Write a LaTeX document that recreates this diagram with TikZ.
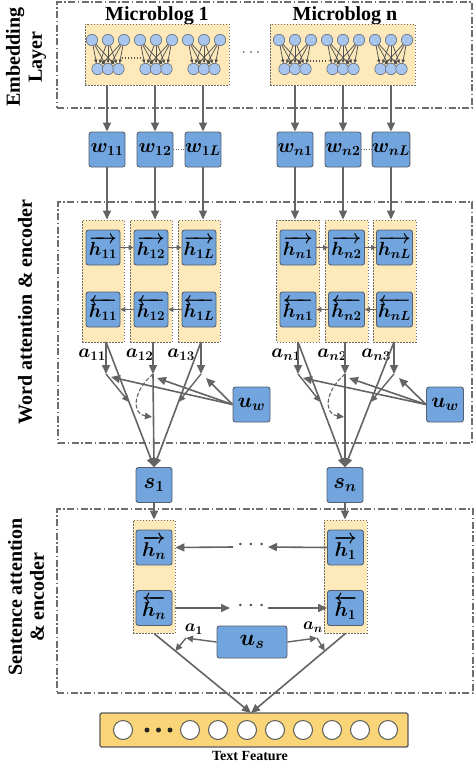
\RequirePackage{fix-cm}
\documentclass[tikz,border=0pt]{standalone}
\usepackage[no-math]{fontspec}
\setmainfont{Liberation Serif}
\usetikzlibrary{arrows.meta,calc}
\newcommand{\fsz}[1]{\fontsize{#1}{#1}\selectfont}
\newcommand{\bmth}[1]{{\boldmath$#1$}}
\definecolor{blueF}{RGB}{114,165,222}
\definecolor{boxB}{RGB}{85,95,110}
\definecolor{panelY}{RGB}{253,233,186}
\definecolor{dotG}{RGB}{110,110,110}
\definecolor{dashG}{RGB}{110,110,110}
\definecolor{circF}{RGB}{168,197,238}
\definecolor{circB}{RGB}{100,110,125}
\definecolor{arrD}{RGB}{80,80,80}
\definecolor{arrG}{RGB}{100,100,100}
\definecolor{tfY}{RGB}{249,213,120}
\definecolor{circB2}{RGB}{90,90,90}
\tikzset{
 outerbox/.style={draw=dashG, line width=1.3pt, dash pattern=on 7pt off 2.5pt on 1.5pt off 2.5pt, inner sep=0},
 panel/.style={draw=dotG, fill=panelY, line width=0.9pt, dash pattern=on 1.5pt off 1.5pt, inner sep=0},
 bluebox/.style={draw=boxB, fill=blueF, rounded corners=2.5pt, line width=0.9pt, inner sep=0, minimum width=36pt, minimum height=35pt, font=\fsz{20}},
 hbox/.style={bluebox, font=\fsz{19}},
 ec/.style={circle, draw=circB, fill=circF, line width=0.6pt, minimum size=11.4pt, inner sep=0},
 earr/.style={draw=arrD, line width=0.75pt, -{Triangle[length=3.5pt,width=3.4pt]}},
 conn/.style={draw=arrG, line width=1.6pt, -{Triangle[length=9pt,width=8pt]}},
 mconn/.style={draw=arrG, line width=1.4pt, -{Triangle[length=7pt,width=6.5pt]}},
 sconn/.style={draw=arrG, line width=1pt, -{Triangle[length=5pt,width=5pt]}},
 lab/.style={font=\fsz{19}, inner sep=0},
 side/.style={rotate=90, font=\fontsize{20}{22}\selectfont\bfseries, align=center, inner sep=0},
 tfc/.style={circle, draw=circB2, fill=white, line width=1pt, minimum size=19pt, inner sep=0},
}
\begin{document}
\begin{tikzpicture}[x=1pt,y=-1pt]
\useasboundingbox (0,0) rectangle (474,763);
\fill[white] (0,0) rectangle (474,763);
% outer boxes
\node[outerbox, minimum width=415pt, minimum height=106pt] (EmbBox) at (264.5,55) {};
\node[outerbox, minimum width=414pt, minimum height=241pt] (WordBox) at (265,322.5) {};
\node[outerbox, minimum width=416pt, minimum height=184pt] (SentBox) at (265,601) {};
% side labels
\node[side] (LabE) at (26,57) {Embedding\\Layer};
\node[side] (LabW) at (25,312) {Word attention \& encoder};
\node[side] (LabS) at (26,597) {Sentence attention\\\& encoder};
% titles
\node[font=\fsz{20}\bfseries, anchor=base, inner sep=0] (Tit1) at (157,20.5) {Microblog 1};
\node[font=\fsz{20}\bfseries, anchor=base, inner sep=0] (Titn) at (345,20.5) {Microblog n};
% embedding panels
\node[panel, minimum width=144pt, minimum height=61pt] (EPL) at (157,54.5) {};
\node[panel, minimum width=145pt, minimum height=61pt] (EPR) at (342.5,54.5) {};
\foreach \g/\cx in {L1/108,L2/156,L3/204,R1/295,R2/343,R3/391}{
  \foreach \i/\dx in {1/-16,2/0,3/16} \node[ec] (\g t\i) at (\cx+\dx,40) {};
  \foreach \i/\dx in {1/-10.5,2/0,3/10.5} \node[ec] (\g b\i) at (\cx+\dx,69) {};
  \foreach \i in {1,2,3}{\foreach \j in {1,2,3}{\draw[earr] (\g t\i) -- (\g b\j);}}
}
\coordinate (ED1a) at (122,58); \coordinate (ED1b) at (143,58);
\coordinate (ED2a) at (310,61); \coordinate (ED2b) at (328,61);
\draw[arrD, line width=1.1pt, dash pattern=on 1.2pt off 1.8pt] (ED1a) -- (ED1b);
\draw[arrD, line width=1.1pt, dash pattern=on 1.2pt off 1.8pt] (ED2a) -- (ED2b);
\node[font=\fsz{16}, text=arrD, inner sep=0] (EDots) at (251,53) {$\cdots$};
% word nodes
\node[bluebox] (WL1) at (107,149.5) {\bmth{w_{11}}};
\node[bluebox] (WL2) at (155,149.5) {\bmth{w_{12}}};
\node[bluebox] (WL3) at (203,149.5) {\bmth{w_{1L}}};
\node[bluebox] (WR1) at (295,149.5) {\bmth{w_{n1}}};
\node[bluebox] (WR2) at (343,149.5) {\bmth{w_{n2}}};
\node[bluebox] (WR3) at (391,149.5) {\bmth{w_{nL}}};
\draw[arrG, line width=1pt, dash pattern=on 1pt off 1.5pt] (WL2.east) -- (WL3.west);
\draw[arrG, line width=1pt, dash pattern=on 1pt off 1.5pt] (WR2.east) -- (WR3.west);
\foreach \w in {WL1,WL2,WL3}{\draw[conn] (EPL.south -| \w) -- (\w.north);}
\foreach \w in {WR1,WR2,WR3}{\draw[conn] (EPR.south -| \w) -- (\w.north);}
% word columns
\foreach \c/\cx/\cw in {CL1/103/42,CL2/151/42,CL3/199/42,CR1/298/43,CR2/346.5/43,CR3/394.5/43}{
  \node[panel, minimum width=\cw pt, minimum height=122pt] (\c) at (\cx,281) {};
}
\node[hbox, minimum width=34pt] (HFL1) at (103,247.5) {\bmth{\overrightarrow{h_{11}}}};
\node[hbox, minimum width=34pt] (HFL2) at (151,247.5) {\bmth{\overrightarrow{h_{12}}}};
\node[hbox, minimum width=34pt] (HFL3) at (199,247.5) {\bmth{\overrightarrow{h_{1L}}}};
\node[hbox, minimum width=34pt] (HBL1) at (103,309.5) {\bmth{\overleftarrow{h_{11}}}};
\node[hbox, minimum width=34pt] (HBL2) at (151,309.5) {\bmth{\overleftarrow{h_{12}}}};
\node[hbox, minimum width=34pt] (HBL3) at (199,309.5) {\bmth{\overleftarrow{h_{1L}}}};
\node[hbox] (HFR1) at (298,247.5) {\bmth{\overrightarrow{h_{n1}}}};
\node[hbox] (HFR2) at (346.5,247.5) {\bmth{\overrightarrow{h_{n2}}}};
\node[hbox] (HFR3) at (394.5,247.5) {\bmth{\overrightarrow{h_{nL}}}};
\node[hbox] (HBR1) at (298,309.5) {\bmth{\overleftarrow{h_{n1}}}};
\node[hbox] (HBR2) at (346.5,309.5) {\bmth{\overleftarrow{h_{n2}}}};
\node[hbox] (HBR3) at (394.5,309.5) {\bmth{\overleftarrow{h_{nL}}}};
\draw[conn] (WL1.south) -- (WL1.south |- CL1.north);
\draw[conn] (WL2.south) -- (WL2.south |- CL2.north);
\draw[conn] (WL3.south) -- (WL3.south |- CL3.north);
\draw[conn] (WR1.south) -- (WR1.south |- CR1.north);
\draw[conn] (WR2.south) -- (WR2.south |- CR2.north);
\draw[conn] (WR3.south) -- (WR3.south |- CR3.north);
\draw[sconn] (HFL1.east) -- (HFL2.west);
\draw[sconn] (HFL2.east) -- (HFL3.west);
\draw[sconn] (HBL2.west) -- (HBL1.east);
\draw[sconn] (HBL3.west) -- (HBL2.east);
\draw[sconn] (HFR1.east) -- (HFR2.west);
\draw[sconn] (HFR2.east) -- (HFR3.west);
\draw[sconn] (HBR2.west) -- (HBR1.east);
\draw[sconn] (HBR3.west) -- (HBR2.east);
% attention labels
\node[lab] (a11) at (92,355) {\bmth{a_{11}}};
\node[lab] (a12) at (139.5,355) {\bmth{a_{12}}};
\node[lab] (a13) at (181,355) {\bmth{a_{13}}};
\node[lab] (an1) at (286,355) {\bmth{a_{n1}}};
\node[lab] (an2) at (332,355) {\bmth{a_{n2}}};
\node[lab] (an3) at (376,355) {\bmth{a_{n3}}};
% sentence vectors and u_w
\node[bluebox, font=\fsz{22}] (S1) at (154,485) {\bmth{s_1}};
\node[bluebox, font=\fsz{22}] (Sn) at (345,485) {\bmth{s_n}};
\node[bluebox, minimum width=37pt, font=\fsz{21}] (UWL) at (251.5,404.5) {\bmth{u_w}};
\node[bluebox, minimum width=37pt, font=\fsz{21}] (UWR) at (445,404.5) {\bmth{u_w}};
% left attention
\coordinate (LB1) at (106,342); \coordinate (LB2) at (153,342); \coordinate (LB3) at (201,342);
\coordinate (LP1) at (106,374); \coordinate (LP2) at (153,374); \coordinate (LP3) at (201,374);
\coordinate (LA1) at (111,377); \coordinate (LA2) at (157,378); \coordinate (LA3) at (206,378);
\coordinate (LD1) at ($(LB1)!0.48!(S1.north)$);
\coordinate (LD2) at (152,417);
\coordinate (LD3) at ($(LB3)!0.48!(S1.north)$);
\draw[conn] (LB1) -- (S1.north);
\draw[conn] (LB3) -- (S1.north);
\draw[conn] (LP2) -- (S1.north);
\draw[conn] (LB1) -- (LP1);
\draw[conn] (LB2) -- (LP2);
\draw[conn] (LB3) -- (LP3);
\draw[conn] (UWL.west) -- (LA1);
\draw[conn] (UWL.west) -- (LA2);
\draw[conn] (UWL.west) -- (LA3);
\draw[mconn] (LP1) -- (LD1);
\draw[mconn] (LP3) -- (LD3);
\draw[mconn, line width=1.1pt, dash pattern=on 4pt off 2pt] (LP2) .. controls (132,392) and (132,414) .. (LD2);
% right attention
\coordinate (RB1) at (298,342); \coordinate (RB2) at (345,342); \coordinate (RB3) at (394,342);
\coordinate (RP1) at (298,374); \coordinate (RP2) at (345,374); \coordinate (RP3) at (394,374);
\coordinate (RA1) at (303,378); \coordinate (RA2) at (349,378); \coordinate (RA3) at (399,378);
\coordinate (RD1) at ($(RB1)!0.48!(Sn.north)$);
\coordinate (RD2) at (344,417);
\coordinate (RD3) at ($(RB3)!0.48!(Sn.north)$);
\draw[conn] (RB1) -- (Sn.north);
\draw[conn] (RB3) -- (Sn.north);
\draw[conn] (RP2) -- (Sn.north);
\draw[conn] (RB1) -- (RP1);
\draw[conn] (RB2) -- (RP2);
\draw[conn] (RB3) -- (RP3);
\draw[conn] (UWR.west) -- (RA1);
\draw[conn] (UWR.west) -- (RA2);
\draw[conn] (UWR.west) -- (RA3);
\draw[mconn] (RP1) -- (RD1);
\draw[mconn] (RP3) -- (RD3);
\draw[mconn, line width=1.1pt, dash pattern=on 4pt off 2pt] (RP2) .. controls (324,392) and (324,414) .. (RD2);
% sentence encoder
\node[panel, minimum width=42pt, minimum height=113pt] (SL) at (154,576.5) {};
\node[panel, minimum width=43pt, minimum height=113pt] (SR) at (345.5,576.5) {};
\node[hbox, font=\fsz{20}] (HFn) at (154,547.5) {\bmth{\overrightarrow{h_n}}};
\node[hbox, font=\fsz{20}] (HBn) at (154,608) {\bmth{\overleftarrow{h_n}}};
\node[hbox, font=\fsz{20}] (HF1) at (345.5,547.5) {\bmth{\overrightarrow{h_1}}};
\node[hbox, font=\fsz{20}] (HB1) at (345.5,608) {\bmth{\overleftarrow{h_1}}};
\draw[conn] (S1.south) -- (S1.south |- SL.north);
\draw[conn] (Sn.south) -- (Sn.south |- SR.north);
\coordinate (T1) at (268,547); \coordinate (T2) at (233,547);
\coordinate (B1) at (230,608); \coordinate (B2) at (268,608);
\node[font=\fsz{24}, text=arrD, inner sep=0] (TDots) at (251,545) {$\cdots$};
\node[font=\fsz{24}, text=arrD, inner sep=0] (BDots) at (251,606) {$\cdots$};
\draw[conn] (HF1.west) -- (T1);
\draw[conn] (T2) -- (SL.east |- HFn);
\draw[conn] (SL.east |- HBn) -- (B1);
\draw[conn] (B2) -- (HB1.west);
\node[bluebox, minimum width=70pt, minimum height=32pt, font=\fsz{23}] (US) at (252,642) {\bmth{u_s}};
% text feature
\node[draw=circB2, fill=tfY, line width=1.4pt, rounded corners=1.5pt, minimum width=308pt, minimum height=34pt, inner sep=0] (TF) at (254,730) {};
\coordinate (TFT) at (251,713);
\draw[conn] (SL.south) -- (TFT);
\draw[conn] (SR.south) -- (TFT);
\coordinate (Q1) at (186,638); \coordinate (Q2) at (317,638);
\coordinate (QD1) at ($(SL.south)!0.22!(TFT)$);
\coordinate (QD2) at ($(SR.south)!0.22!(TFT)$);
\draw[mconn] (US.west) -- (Q1);
\draw[mconn] (US.east) -- (Q2);
\draw[mconn] (Q1) -- (QD1);
\draw[mconn] (Q2) -- (QD2);
\node[font=\fsz{17}, inner sep=0] (la1) at (194,629) {\bmth{a_1}};
\node[font=\fsz{17}, inner sep=0] (lan) at (313,627) {\bmth{a_n}};
\foreach \k/\px in {1/123,2/190,3/218,4/247,5/275,6/303,7/332,8/360,9/388}{
  \node[tfc] (TC\k) at (\px,730) {};
}
\foreach \k/\px in {1/147,2/158.5,3/170}{
  \node[circle, fill=black!85, minimum size=5pt, inner sep=0] (TDot\k) at (\px,730) {};
}
\node[font=\fsz{14}\bfseries, inner sep=0] (TFL) at (250,756) {Text Feature};
\end{tikzpicture}
\end{document}
